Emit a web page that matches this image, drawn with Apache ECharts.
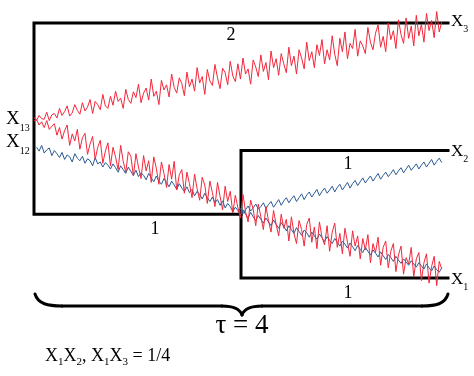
<!DOCTYPE html>
<html>
<head>
<meta charset="utf-8">
<script src="https://cdn.jsdelivr.net/npm/echarts@6/dist/echarts.min.js"></script>
<style>html,body{margin:0;padding:0;background:#fff}#c{width:474px;height:376px}</style>
</head>
<body>
<div id="c"></div>
<script>
// time span covered by the noisy trajectories (total width 2 units)
const tEnd = 1.97;

// X13 -> X3 (red, upper)
const redUpper = [
1.52,1.47,1.55,1.50,1.49,1.60,1.47,1.56,1.58,1.51,
1.66,1.55,1.61,1.70,1.54,1.59,1.72,1.63,1.57,1.75,
1.62,1.68,1.80,1.58,1.77,1.72,1.64,1.88,1.70,1.66,
1.85,1.71,1.93,1.77,1.82,1.66,1.96,1.80,1.74,1.92,
1.83,2.04,1.75,1.90,1.98,1.79,2.12,1.85,1.93,1.72,
2.10,1.95,2.03,1.84,2.20,1.99,1.90,2.14,2.05,1.86,
2.23,2.00,2.12,1.93,2.30,2.06,2.16,1.88,2.27,2.09,
2.02,2.35,2.14,1.97,2.29,2.22,2.03,2.40,2.17,2.08,
2.36,2.12,2.45,2.20,2.28,2.04,2.42,2.31,2.16,2.50,
2.24,2.38,2.11,2.56,2.30,2.44,2.18,2.52,2.36,2.22,
2.62,2.33,2.48,2.20,2.58,2.45,2.28,2.70,2.41,2.55,
2.30,2.66,2.49,2.74,2.36,2.58,2.42,2.80,2.51,2.33,
2.76,2.55,2.86,2.44,2.68,2.60,2.90,2.48,2.72,2.64,
2.52,2.93,2.70,2.58,2.84,2.97,2.62,2.79,2.55,3.00,
2.74,2.88,2.60,3.05,2.82,2.68,3.08,2.76,2.95,2.64,
3.12,2.80,2.98,2.70,3.15,2.88,3.04,2.77,3.18,2.86,
3.02];

// X13 -> X1 (red, lower)
const redLower = [
1.46,1.49,1.40,1.45,1.36,1.47,1.33,1.38,1.42,1.24,
1.36,1.18,1.31,1.40,1.08,1.26,1.15,1.33,1.02,1.20,
1.27,0.94,1.10,1.22,0.86,1.05,1.16,0.80,0.99,1.12,
0.76,1.05,0.90,0.70,1.08,0.83,0.66,0.98,0.91,0.60,
0.95,0.74,0.56,0.92,0.68,0.84,0.50,0.90,0.72,0.47,
0.82,0.64,0.42,0.78,0.55,0.83,0.38,0.62,0.70,0.33,
0.66,0.48,0.26,0.63,0.40,0.22,0.58,0.46,0.17,0.52,
0.34,0.12,0.50,0.28,0.07,0.44,0.20,0.36,0.02,0.30,
0.10,-0.06,0.31,0.04,-0.12,0.22,0.08,-0.18,0.16,-0.04,
-0.24,0.12,-0.10,-0.28,0.06,-0.16,-0.34,0.00,-0.22,-0.08,
-0.42,-0.04,-0.30,-0.46,-0.10,-0.24,-0.50,-0.16,-0.06,-0.44,
-0.20,-0.54,-0.12,-0.36,-0.48,-0.18,-0.58,-0.28,-0.14,-0.52,
-0.30,-0.62,-0.22,-0.44,-0.66,-0.26,-0.50,-0.34,-0.70,-0.38,
-0.56,-0.32,-0.76,-0.46,-0.60,-0.36,-0.80,-0.52,-0.42,-0.84,
-0.58,-0.46,-0.90,-0.64,-0.50,-0.94,-0.68,-0.78,-0.52,-0.98,
-0.70,-0.60,-1.04,-0.76,-0.62,-1.08,-0.82,-0.66,-1.12,-0.74,
-0.86];

// X12 -> X1 (blue, lower)
const blueLower = [
null,1.05,0.99,1.08,0.96,1.01,1.04,0.92,1.00,0.95,
0.89,0.97,0.86,0.93,0.90,0.82,0.95,0.88,0.84,0.91,
0.80,0.87,0.84,0.76,0.89,0.79,0.82,0.74,0.81,0.77,
0.71,0.79,0.73,0.66,0.76,0.70,0.64,0.74,0.67,0.61,
0.69,0.59,0.65,0.61,0.54,0.64,0.57,0.51,0.60,0.52,
0.47,0.56,0.50,0.43,0.52,0.46,0.39,0.48,0.41,0.36,
0.43,0.34,0.39,0.29,0.36,0.31,0.24,0.33,0.26,0.20,
0.27,0.18,0.23,0.14,0.21,0.10,0.17,0.12,0.04,0.11,
0.06,-0.01,0.07,0.00,-0.06,0.03,-0.04,-0.10,-0.02,-0.08,
-0.14,-0.06,-0.12,-0.18,-0.09,-0.16,-0.22,-0.13,-0.19,-0.26,
-0.18,-0.24,-0.30,-0.21,-0.27,-0.33,-0.25,-0.29,-0.36,-0.28,
-0.34,-0.39,-0.31,-0.37,-0.43,-0.35,-0.41,-0.46,-0.38,-0.44,
-0.50,-0.42,-0.47,-0.53,-0.45,-0.51,-0.57,-0.49,-0.55,-0.60,
-0.52,-0.58,-0.64,-0.56,-0.61,-0.67,-0.59,-0.65,-0.71,-0.63,
-0.68,-0.74,-0.66,-0.72,-0.77,-0.70,-0.75,-0.80,-0.73,-0.78,
-0.83,-0.76,-0.81,-0.86,-0.78,-0.84,-0.89,-0.81,-0.87,-0.91,
-0.84];

// junction -> X2 (blue, upper), second half of the time span
const blueUpper = [
0.04,0.09,0.01,0.07,0.13,0.05,0.10,0.16,0.08,0.12,
0.18,0.09,0.15,0.20,0.11,0.17,0.23,0.14,0.21,0.26,
0.18,0.24,0.29,0.20,0.26,0.32,0.23,0.30,0.35,0.27,
0.33,0.39,0.29,0.36,0.41,0.33,0.38,0.44,0.35,0.42,
0.47,0.38,0.44,0.50,0.41,0.48,0.53,0.45,0.51,0.57,
0.49,0.55,0.60,0.52,0.58,0.64,0.55,0.61,0.66,0.59,
0.64,0.70,0.62,0.68,0.73,0.65,0.71,0.77,0.69,0.74,
0.79,0.71,0.77,0.82,0.74,0.80,0.86,0.77,0.83,0.88,
0.81];

// state levels and durations of the frame
const levelX3 = 3, levelX2 = 1, levelBase = 0, levelX1 = -1;
const durFirst = 1, durTotal = 2;

const times = redUpper.map((_, i) => i * tEnd / (redUpper.length - 1));
const pairs = (vals, offset) => vals.map((v, i) => [times[i + offset], v]);

const chart = echarts.init(document.getElementById('c'), null, {renderer: 'canvas'});

const SERIF = '"Liberation Serif", "Times New Roman", serif';
const ctx = document.createElement('canvas').getContext('2d');
function measure(txt, size) { ctx.font = size + 'px ' + SERIF; return ctx.measureText(txt).width; }
function txt(x, y, s, size, align) {
  return {type: 'text', x: x, y: y, silent: true, z: 100,
    style: {text: s, font: size + 'px ' + SERIF, fill: '#000',
      align: align || 'left', textAlign: align || 'left',
      verticalAlign: 'middle', textVerticalAlign: 'middle'}};
}
const els = [];
function run(x0, y, pieces, mainSize, subSize, dy) {
  let x = x0;
  pieces.forEach(([s, sub]) => {
    const size = sub ? subSize : mainSize;
    els.push(txt(x, sub ? y + dy : y, s, size, 'left'));
    x += measure(s, size);
  });
}
run(6, 119.5, [['X',0],['13',1]], 19, 10, 8.5);
run(6, 142.5, [['X',0],['12',1]], 19, 10, 8.5);
run(451, 22, [['X',0],['3',1]], 17, 10, 7);
run(451, 152, [['X',0],['2',1]], 17, 10, 7);
run(451, 280, [['X',0],['1',1]], 17, 10, 7);
run(45, 356, [['X',0],['1',1],['X',0],['2',1],[', X',0],['1',1],['X',0],['3',1],[' = 1/4',0]], 18, 11, 6);
els.push(txt(231, 35.5, '2', 18, 'center'));
els.push(txt(155, 229, '1', 18, 'center'));
els.push(txt(348, 164, '1', 18, 'center'));
els.push(txt(348, 293, '1', 18, 'center'));
els.push(txt(242, 326, 'τ = 4', 27, 'center'));

// curly brace under the whole span
const braceStyle = {fill: 'none', stroke: '#000', lineWidth: 3, lineCap: 'round'};
function bez(x1, y1, c1x, c1y, c2x, c2y, x2, y2) {
  return {type: 'bezierCurve', silent: true, z: 100,
    shape: {x1: x1, y1: y1, cpx1: c1x, cpy1: c1y, cpx2: c2x, cpy2: c2y, x2: x2, y2: y2}, style: braceStyle};
}
function seg(x1, y1, x2, y2) {
  return {type: 'line', silent: true, z: 100, shape: {x1: x1, y1: y1, x2: x2, y2: y2}, style: braceStyle};
}
els.push(bez(35, 294, 38, 304, 48, 306, 62, 306));
els.push(seg(62, 306, 222, 306));
els.push(bez(222, 306, 234, 306, 240, 309, 242, 315));
els.push(bez(242, 315, 244, 309, 250, 306, 262, 306));
els.push(seg(262, 306, 422, 306));
els.push(bez(422, 306, 436, 306, 445, 304, 448, 294));

const lineBase = {type: 'line', symbol: 'none', clip: false, animation: false, silent: true};
const frameBase = {type: 'line', symbol: 'none', clip: false, animation: false, silent: true, z: 1,
  lineStyle: {color: '#000', width: 3, join: 'miter', cap: 'square'}};

chart.setOption({
  animation: false,
  backgroundColor: '#fff',
  grid: {left: 34, right: 26, top: 23, height: 255, containLabel: false},
  xAxis: {type: 'value', min: 0, max: durTotal, show: false},
  yAxis: {type: 'value', min: levelX1, max: levelX3, show: false},
  series: [
    Object.assign({}, frameBase, {data: [[durTotal, levelX3], [0, levelX3], [0, levelBase], [durFirst, levelBase]]}),
    Object.assign({}, frameBase, {data: [[durTotal, levelX2], [durFirst, levelX2], [durFirst, levelX1], [durTotal, levelX1]]}),
    Object.assign({}, lineBase, {z: 3, data: pairs(blueLower, 0), lineStyle: {color: '#2b5a93', width: 1}}),
    Object.assign({}, lineBase, {z: 3, data: pairs(blueUpper, 80), lineStyle: {color: '#2b5a93', width: 1}}),
    Object.assign({}, lineBase, {z: 4, data: pairs(redLower, 0), lineStyle: {color: '#f2283c', width: 1}}),
    Object.assign({}, lineBase, {z: 4, data: pairs(redUpper, 0), lineStyle: {color: '#f2283c', width: 1}})
  ],
  graphic: {elements: els}
});
</script>
</body>
</html>
